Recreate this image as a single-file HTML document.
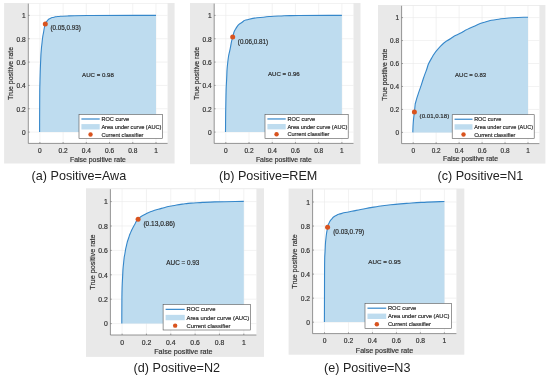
<!DOCTYPE html>
<html lang="en"><head><meta charset="utf-8"><title>ROC curves</title>
<style>
html,body{margin:0;padding:0;background:#fff;}
body{width:550px;height:377px;overflow:hidden;}
svg{display:block;font-family:"Liberation Sans", sans-serif;}
text{stroke:#333;stroke-width:0.18px;}
</style></head><body>
<svg width="550" height="377" viewBox="0 0 550 377">
<rect width="550" height="377" fill="#fff"/>
<g id="panel-a">
<rect x="4.1" y="3" width="170.5" height="160.5" fill="#e9e9e9"/>
<rect x="28.3" y="3.6" width="139.3" height="139.8" fill="#fff"/>
<line x1="39.9" y1="3.6" x2="39.9" y2="143.4" stroke="#e9e9e9" stroke-width="0.6"/>
<line x1="28.3" y1="132.1" x2="167.6" y2="132.1" stroke="#e9e9e9" stroke-width="0.6"/>
<line x1="63.12" y1="3.6" x2="63.12" y2="143.4" stroke="#e9e9e9" stroke-width="0.6"/>
<line x1="28.3" y1="108.76" x2="167.6" y2="108.76" stroke="#e9e9e9" stroke-width="0.6"/>
<line x1="86.34" y1="3.6" x2="86.34" y2="143.4" stroke="#e9e9e9" stroke-width="0.6"/>
<line x1="28.3" y1="85.42" x2="167.6" y2="85.42" stroke="#e9e9e9" stroke-width="0.6"/>
<line x1="109.56" y1="3.6" x2="109.56" y2="143.4" stroke="#e9e9e9" stroke-width="0.6"/>
<line x1="28.3" y1="62.08" x2="167.6" y2="62.08" stroke="#e9e9e9" stroke-width="0.6"/>
<line x1="132.78" y1="3.6" x2="132.78" y2="143.4" stroke="#e9e9e9" stroke-width="0.6"/>
<line x1="28.3" y1="38.74" x2="167.6" y2="38.74" stroke="#e9e9e9" stroke-width="0.6"/>
<line x1="156" y1="3.6" x2="156" y2="143.4" stroke="#e9e9e9" stroke-width="0.6"/>
<line x1="28.3" y1="15.4" x2="167.6" y2="15.4" stroke="#e9e9e9" stroke-width="0.6"/>
<path d="M39.6,132.1 C39.63,121.4 39.6,117.37 39.7,100 C39.83,82.63 39.7,93.33 40,80 C40.33,66.67 40.27,70 40.7,60 C41.13,50 40.9,55.33 41.3,50 C41.7,44.67 41.43,48.33 41.9,44 C42.37,39.67 42.17,40.77 42.7,37 C43.23,33.23 42.93,35.87 43.5,32.7 C44.07,29.53 43.77,30.4 44.4,27.5 C45.03,24.6 44.4,26.33 45.4,24 C46.43,21.67 45.9,22.37 47.5,20.5 C49.1,18.63 48.03,19.5 50.2,18.4 C52.37,17.3 51.47,17.83 54,17.2 C56.53,16.57 54,16.93 57.8,16.5 C62.7,16.07 57.8,16.23 68.7,15.9 C79.6,15.57 68.7,15.67 90.5,15.5 C119.6,15.4 134.17,15.43 156,15.4 L156,132.1 Z" fill="#bedcef"/>
<path d="M39.6,132.1 C39.63,121.4 39.6,117.37 39.7,100 C39.83,82.63 39.7,93.33 40,80 C40.33,66.67 40.27,70 40.7,60 C41.13,50 40.9,55.33 41.3,50 C41.7,44.67 41.43,48.33 41.9,44 C42.37,39.67 42.17,40.77 42.7,37 C43.23,33.23 42.93,35.87 43.5,32.7 C44.07,29.53 43.77,30.4 44.4,27.5 C45.03,24.6 44.4,26.33 45.4,24 C46.43,21.67 45.9,22.37 47.5,20.5 C49.1,18.63 48.03,19.5 50.2,18.4 C52.37,17.3 51.47,17.83 54,17.2 C56.53,16.57 54,16.93 57.8,16.5 C62.7,16.07 57.8,16.23 68.7,15.9 C79.6,15.57 68.7,15.67 90.5,15.5 C119.6,15.4 134.17,15.43 156,15.4" fill="none" stroke="#3587ca" stroke-width="1.1" stroke-linejoin="round"/>
<polyline points="28.3,3.6 28.3,143.4 167.6,143.4" fill="none" stroke="#6a6a6a" stroke-width="0.7"/>
<line x1="39.9" y1="143.4" x2="39.9" y2="142" stroke="#6a6a6a" stroke-width="0.6"/>
<line x1="28.3" y1="132.1" x2="29.7" y2="132.1" stroke="#6a6a6a" stroke-width="0.6"/>
<line x1="63.12" y1="143.4" x2="63.12" y2="142" stroke="#6a6a6a" stroke-width="0.6"/>
<line x1="28.3" y1="108.76" x2="29.7" y2="108.76" stroke="#6a6a6a" stroke-width="0.6"/>
<line x1="86.34" y1="143.4" x2="86.34" y2="142" stroke="#6a6a6a" stroke-width="0.6"/>
<line x1="28.3" y1="85.42" x2="29.7" y2="85.42" stroke="#6a6a6a" stroke-width="0.6"/>
<line x1="109.56" y1="143.4" x2="109.56" y2="142" stroke="#6a6a6a" stroke-width="0.6"/>
<line x1="28.3" y1="62.08" x2="29.7" y2="62.08" stroke="#6a6a6a" stroke-width="0.6"/>
<line x1="132.78" y1="143.4" x2="132.78" y2="142" stroke="#6a6a6a" stroke-width="0.6"/>
<line x1="28.3" y1="38.74" x2="29.7" y2="38.74" stroke="#6a6a6a" stroke-width="0.6"/>
<line x1="156" y1="143.4" x2="156" y2="142" stroke="#6a6a6a" stroke-width="0.6"/>
<line x1="28.3" y1="15.4" x2="29.7" y2="15.4" stroke="#6a6a6a" stroke-width="0.6"/>
<g font-size="6.55" fill="#303030">
<text x="39.9" y="152.66" text-anchor="middle">0</text>
<text x="25.7" y="134.86" text-anchor="end">0</text>
<text x="63.12" y="152.66" text-anchor="middle">0.2</text>
<text x="25.7" y="111.52" text-anchor="end">0.2</text>
<text x="86.34" y="152.66" text-anchor="middle">0.4</text>
<text x="25.7" y="88.18" text-anchor="end">0.4</text>
<text x="109.56" y="152.66" text-anchor="middle">0.6</text>
<text x="25.7" y="64.84" text-anchor="end">0.6</text>
<text x="132.78" y="152.66" text-anchor="middle">0.8</text>
<text x="25.7" y="41.5" text-anchor="end">0.8</text>
<text x="156" y="152.66" text-anchor="middle">1</text>
<text x="25.7" y="18.16" text-anchor="end">1</text>
</g>
<text x="97.95" y="161.67" font-size="6.9" text-anchor="middle" fill="#303030">False positive rate</text>
<text transform="translate(13.47,73.5) rotate(-90)" font-size="6.9" text-anchor="middle" fill="#303030">True positive rate</text>
<circle cx="45.3" cy="24" r="2.5" fill="#d9531e"/>
<text x="50.5" y="30.06" font-size="6.27" fill="#222">(0.05,0.93)</text>
<text x="82.1" y="76.7" font-size="6.1" fill="#222">AUC = 0.98</text>
<rect x="79" y="114.4" width="83.4" height="24.2" fill="#fff" stroke="#555" stroke-width="0.6"/>
<line x1="81.4" y1="119" x2="99.7" y2="119" stroke="#3587ca" stroke-width="1.2"/>
<rect x="81.4" y="124.09" width="18.3" height="5.4" fill="#bedcef"/>
<circle cx="90.55" cy="134.49" r="2.2" fill="#d9531e"/>
<g font-size="5.6" fill="#222">
<text x="101.4" y="121.01">ROC curve</text>
<text x="101.4" y="128.71">Area under curve (AUC)</text>
<text x="101.4" y="136.5">Current classifier</text>
</g>
<text x="31.6" y="180" font-size="12.6" fill="#222" style="stroke:none">(a) Positive=Awa</text>
</g>
<g id="panel-b">
<rect x="190" y="3" width="170.5" height="161.2" fill="#e9e9e9"/>
<rect x="214.2" y="3.6" width="139.3" height="139.8" fill="#fff"/>
<line x1="225.8" y1="3.6" x2="225.8" y2="143.4" stroke="#e9e9e9" stroke-width="0.6"/>
<line x1="214.2" y1="132.1" x2="353.5" y2="132.1" stroke="#e9e9e9" stroke-width="0.6"/>
<line x1="249.02" y1="3.6" x2="249.02" y2="143.4" stroke="#e9e9e9" stroke-width="0.6"/>
<line x1="214.2" y1="108.76" x2="353.5" y2="108.76" stroke="#e9e9e9" stroke-width="0.6"/>
<line x1="272.24" y1="3.6" x2="272.24" y2="143.4" stroke="#e9e9e9" stroke-width="0.6"/>
<line x1="214.2" y1="85.42" x2="353.5" y2="85.42" stroke="#e9e9e9" stroke-width="0.6"/>
<line x1="295.46" y1="3.6" x2="295.46" y2="143.4" stroke="#e9e9e9" stroke-width="0.6"/>
<line x1="214.2" y1="62.08" x2="353.5" y2="62.08" stroke="#e9e9e9" stroke-width="0.6"/>
<line x1="318.68" y1="3.6" x2="318.68" y2="143.4" stroke="#e9e9e9" stroke-width="0.6"/>
<line x1="214.2" y1="38.74" x2="353.5" y2="38.74" stroke="#e9e9e9" stroke-width="0.6"/>
<line x1="341.9" y1="3.6" x2="341.9" y2="143.4" stroke="#e9e9e9" stroke-width="0.6"/>
<line x1="214.2" y1="15.4" x2="353.5" y2="15.4" stroke="#e9e9e9" stroke-width="0.6"/>
<path d="M225.5,132.1 C225.63,121.4 225.53,117.37 225.9,100 C226.27,82.63 225.97,92.67 226.6,80 C227.23,67.33 226.6,72.43 227.8,62 C229,51.57 228.57,57 230.2,48.7 C231.83,40.4 230.77,43.87 232.7,37.1 C234.63,30.33 232.97,33.27 236,28.4 C239.03,23.53 237.43,25.57 241.8,22.5 C246.17,19.43 241.83,20.97 249.1,19.2 C256.37,17.43 253.9,18.27 263.6,17.2 C273.3,16.13 266.57,16.57 278.2,16 C289.83,15.5 278.2,15.7 298.5,15.5 C319.73,15.4 327.43,15.43 341.9,15.4 L341.9,132.1 Z" fill="#bedcef"/>
<path d="M225.5,132.1 C225.63,121.4 225.53,117.37 225.9,100 C226.27,82.63 225.97,92.67 226.6,80 C227.23,67.33 226.6,72.43 227.8,62 C229,51.57 228.57,57 230.2,48.7 C231.83,40.4 230.77,43.87 232.7,37.1 C234.63,30.33 232.97,33.27 236,28.4 C239.03,23.53 237.43,25.57 241.8,22.5 C246.17,19.43 241.83,20.97 249.1,19.2 C256.37,17.43 253.9,18.27 263.6,17.2 C273.3,16.13 266.57,16.57 278.2,16 C289.83,15.5 278.2,15.7 298.5,15.5 C319.73,15.4 327.43,15.43 341.9,15.4" fill="none" stroke="#3587ca" stroke-width="1.1" stroke-linejoin="round"/>
<polyline points="214.2,3.6 214.2,143.4 353.5,143.4" fill="none" stroke="#6a6a6a" stroke-width="0.7"/>
<line x1="225.8" y1="143.4" x2="225.8" y2="142" stroke="#6a6a6a" stroke-width="0.6"/>
<line x1="214.2" y1="132.1" x2="215.6" y2="132.1" stroke="#6a6a6a" stroke-width="0.6"/>
<line x1="249.02" y1="143.4" x2="249.02" y2="142" stroke="#6a6a6a" stroke-width="0.6"/>
<line x1="214.2" y1="108.76" x2="215.6" y2="108.76" stroke="#6a6a6a" stroke-width="0.6"/>
<line x1="272.24" y1="143.4" x2="272.24" y2="142" stroke="#6a6a6a" stroke-width="0.6"/>
<line x1="214.2" y1="85.42" x2="215.6" y2="85.42" stroke="#6a6a6a" stroke-width="0.6"/>
<line x1="295.46" y1="143.4" x2="295.46" y2="142" stroke="#6a6a6a" stroke-width="0.6"/>
<line x1="214.2" y1="62.08" x2="215.6" y2="62.08" stroke="#6a6a6a" stroke-width="0.6"/>
<line x1="318.68" y1="143.4" x2="318.68" y2="142" stroke="#6a6a6a" stroke-width="0.6"/>
<line x1="214.2" y1="38.74" x2="215.6" y2="38.74" stroke="#6a6a6a" stroke-width="0.6"/>
<line x1="341.9" y1="143.4" x2="341.9" y2="142" stroke="#6a6a6a" stroke-width="0.6"/>
<line x1="214.2" y1="15.4" x2="215.6" y2="15.4" stroke="#6a6a6a" stroke-width="0.6"/>
<g font-size="6.55" fill="#303030">
<text x="225.8" y="152.66" text-anchor="middle">0</text>
<text x="211.6" y="134.86" text-anchor="end">0</text>
<text x="249.02" y="152.66" text-anchor="middle">0.2</text>
<text x="211.6" y="111.52" text-anchor="end">0.2</text>
<text x="272.24" y="152.66" text-anchor="middle">0.4</text>
<text x="211.6" y="88.18" text-anchor="end">0.4</text>
<text x="295.46" y="152.66" text-anchor="middle">0.6</text>
<text x="211.6" y="64.84" text-anchor="end">0.6</text>
<text x="318.68" y="152.66" text-anchor="middle">0.8</text>
<text x="211.6" y="41.5" text-anchor="end">0.8</text>
<text x="341.9" y="152.66" text-anchor="middle">1</text>
<text x="211.6" y="18.16" text-anchor="end">1</text>
</g>
<text x="283.85" y="161.67" font-size="6.9" text-anchor="middle" fill="#303030">False positive rate</text>
<text transform="translate(199.37,73.5) rotate(-90)" font-size="6.9" text-anchor="middle" fill="#303030">True positive rate</text>
<circle cx="232.7" cy="37.1" r="2.5" fill="#d9531e"/>
<text x="237.8" y="44.06" font-size="6.27" fill="#222">(0.06,0.81)</text>
<text x="268" y="76.1" font-size="6.1" fill="#222">AUC = 0.96</text>
<rect x="265" y="114.4" width="83.2" height="24" fill="#fff" stroke="#555" stroke-width="0.6"/>
<line x1="267.4" y1="118.96" x2="285.7" y2="118.96" stroke="#3587ca" stroke-width="1.2"/>
<rect x="267.4" y="123.99" width="18.3" height="5.4" fill="#bedcef"/>
<circle cx="276.55" cy="134.32" r="2.2" fill="#d9531e"/>
<g font-size="5.6" fill="#222">
<text x="287.4" y="120.98">ROC curve</text>
<text x="287.4" y="128.61">Area under curve (AUC)</text>
<text x="287.4" y="136.34">Current classifier</text>
</g>
<text x="219" y="180" font-size="12.6" fill="#222" style="stroke:none">(b) Positive=REM</text>
</g>
<g id="panel-c">
<rect x="378" y="5" width="167.4" height="158.6" fill="#e9e9e9"/>
<rect x="401.6" y="5.8" width="137.8" height="137.8" fill="#fff"/>
<line x1="413.2" y1="5.8" x2="413.2" y2="143.6" stroke="#e9e9e9" stroke-width="0.6"/>
<line x1="401.6" y1="132.4" x2="539.4" y2="132.4" stroke="#e9e9e9" stroke-width="0.6"/>
<line x1="436.16" y1="5.8" x2="436.16" y2="143.6" stroke="#e9e9e9" stroke-width="0.6"/>
<line x1="401.6" y1="109.44" x2="539.4" y2="109.44" stroke="#e9e9e9" stroke-width="0.6"/>
<line x1="459.12" y1="5.8" x2="459.12" y2="143.6" stroke="#e9e9e9" stroke-width="0.6"/>
<line x1="401.6" y1="86.48" x2="539.4" y2="86.48" stroke="#e9e9e9" stroke-width="0.6"/>
<line x1="482.08" y1="5.8" x2="482.08" y2="143.6" stroke="#e9e9e9" stroke-width="0.6"/>
<line x1="401.6" y1="63.52" x2="539.4" y2="63.52" stroke="#e9e9e9" stroke-width="0.6"/>
<line x1="505.04" y1="5.8" x2="505.04" y2="143.6" stroke="#e9e9e9" stroke-width="0.6"/>
<line x1="401.6" y1="40.56" x2="539.4" y2="40.56" stroke="#e9e9e9" stroke-width="0.6"/>
<line x1="528" y1="5.8" x2="528" y2="143.6" stroke="#e9e9e9" stroke-width="0.6"/>
<line x1="401.6" y1="17.6" x2="539.4" y2="17.6" stroke="#e9e9e9" stroke-width="0.6"/>
<path d="M412.8,132.4 C412.97,128.93 412.8,128.8 413.3,122 C413.83,115.2 413.77,118 414.4,112 C415.03,106 414.4,112 415.2,104 C417.57,94.77 417.93,95.1 421.5,84.3 C425.07,73.5 422.67,80.07 425.9,71.6 C429.13,63.13 426.3,67.37 431.2,58.9 C436.1,50.43 434.07,53 440.6,46.2 C447.13,39.4 444.43,42.77 450.8,38.5 C457.17,34.23 452.5,37.2 459.7,33.4 C466.9,29.6 463.9,30.9 472.4,27.1 C480.9,23.3 477.13,24.53 485.2,22 C493.27,19.5 487.7,20.93 496.6,19.5 C505.5,18.07 501.43,18.47 511.9,17.7 C522.37,17.2 522.63,17.37 528,17.2 L528,132.4 Z" fill="#bedcef"/>
<path d="M412.8,132.4 C412.97,128.93 412.8,128.8 413.3,122 C413.83,115.2 413.77,118 414.4,112 C415.03,106 414.4,112 415.2,104 C417.57,94.77 417.93,95.1 421.5,84.3 C425.07,73.5 422.67,80.07 425.9,71.6 C429.13,63.13 426.3,67.37 431.2,58.9 C436.1,50.43 434.07,53 440.6,46.2 C447.13,39.4 444.43,42.77 450.8,38.5 C457.17,34.23 452.5,37.2 459.7,33.4 C466.9,29.6 463.9,30.9 472.4,27.1 C480.9,23.3 477.13,24.53 485.2,22 C493.27,19.5 487.7,20.93 496.6,19.5 C505.5,18.07 501.43,18.47 511.9,17.7 C522.37,17.2 522.63,17.37 528,17.2" fill="none" stroke="#3587ca" stroke-width="1.1" stroke-linejoin="round"/>
<polyline points="401.6,5.8 401.6,143.6 539.4,143.6" fill="none" stroke="#6a6a6a" stroke-width="0.7"/>
<line x1="413.2" y1="143.6" x2="413.2" y2="142.2" stroke="#6a6a6a" stroke-width="0.6"/>
<line x1="401.6" y1="132.4" x2="403" y2="132.4" stroke="#6a6a6a" stroke-width="0.6"/>
<line x1="436.16" y1="143.6" x2="436.16" y2="142.2" stroke="#6a6a6a" stroke-width="0.6"/>
<line x1="401.6" y1="109.44" x2="403" y2="109.44" stroke="#6a6a6a" stroke-width="0.6"/>
<line x1="459.12" y1="143.6" x2="459.12" y2="142.2" stroke="#6a6a6a" stroke-width="0.6"/>
<line x1="401.6" y1="86.48" x2="403" y2="86.48" stroke="#6a6a6a" stroke-width="0.6"/>
<line x1="482.08" y1="143.6" x2="482.08" y2="142.2" stroke="#6a6a6a" stroke-width="0.6"/>
<line x1="401.6" y1="63.52" x2="403" y2="63.52" stroke="#6a6a6a" stroke-width="0.6"/>
<line x1="505.04" y1="143.6" x2="505.04" y2="142.2" stroke="#6a6a6a" stroke-width="0.6"/>
<line x1="401.6" y1="40.56" x2="403" y2="40.56" stroke="#6a6a6a" stroke-width="0.6"/>
<line x1="528" y1="143.6" x2="528" y2="142.2" stroke="#6a6a6a" stroke-width="0.6"/>
<line x1="401.6" y1="17.6" x2="403" y2="17.6" stroke="#6a6a6a" stroke-width="0.6"/>
<g font-size="6.42" fill="#303030">
<text x="413.2" y="152.91" text-anchor="middle">0</text>
<text x="399" y="135.11" text-anchor="end">0</text>
<text x="436.16" y="152.91" text-anchor="middle">0.2</text>
<text x="399" y="112.15" text-anchor="end">0.2</text>
<text x="459.12" y="152.91" text-anchor="middle">0.4</text>
<text x="399" y="89.19" text-anchor="end">0.4</text>
<text x="482.08" y="152.91" text-anchor="middle">0.6</text>
<text x="399" y="66.23" text-anchor="end">0.6</text>
<text x="505.04" y="152.91" text-anchor="middle">0.8</text>
<text x="399" y="43.27" text-anchor="end">0.8</text>
<text x="528" y="152.91" text-anchor="middle">1</text>
<text x="399" y="20.31" text-anchor="end">1</text>
</g>
<text x="470.5" y="161.33" font-size="6.76" text-anchor="middle" fill="#303030">False positive rate</text>
<text transform="translate(387.03,74.7) rotate(-90)" font-size="6.76" text-anchor="middle" fill="#303030">True positive rate</text>
<circle cx="414.4" cy="112" r="2.5" fill="#d9531e"/>
<text x="419.6" y="118.11" font-size="6.14" fill="#222">(0.01,0.18)</text>
<text x="455.1" y="77.05" font-size="5.98" fill="#222">AUC = 0.83</text>
<rect x="452.2" y="114.7" width="82" height="23.9" fill="#fff" stroke="#555" stroke-width="0.6"/>
<line x1="454.55" y1="119.24" x2="472.49" y2="119.24" stroke="#3587ca" stroke-width="1.2"/>
<rect x="454.55" y="124.24" width="17.93" height="5.4" fill="#bedcef"/>
<circle cx="463.52" cy="134.54" r="2.2" fill="#d9531e"/>
<g font-size="5.49" fill="#222">
<text x="474.15" y="121.22">ROC curve</text>
<text x="474.15" y="128.82">Area under curve (AUC)</text>
<text x="474.15" y="136.51">Current classifier</text>
</g>
<text x="437.5" y="180" font-size="12.6" fill="#222" style="stroke:none">(c) Positive=N1</text>
</g>
<g id="panel-d">
<rect x="86" y="188.3" width="178" height="168.6" fill="#e9e9e9"/>
<rect x="110.4" y="189.2" width="146" height="145.8" fill="#fff"/>
<line x1="122.1" y1="189.2" x2="122.1" y2="335" stroke="#e9e9e9" stroke-width="0.6"/>
<line x1="110.4" y1="323.6" x2="256.4" y2="323.6" stroke="#e9e9e9" stroke-width="0.6"/>
<line x1="146.44" y1="189.2" x2="146.44" y2="335" stroke="#e9e9e9" stroke-width="0.6"/>
<line x1="110.4" y1="299.2" x2="256.4" y2="299.2" stroke="#e9e9e9" stroke-width="0.6"/>
<line x1="170.78" y1="189.2" x2="170.78" y2="335" stroke="#e9e9e9" stroke-width="0.6"/>
<line x1="110.4" y1="274.8" x2="256.4" y2="274.8" stroke="#e9e9e9" stroke-width="0.6"/>
<line x1="195.12" y1="189.2" x2="195.12" y2="335" stroke="#e9e9e9" stroke-width="0.6"/>
<line x1="110.4" y1="250.4" x2="256.4" y2="250.4" stroke="#e9e9e9" stroke-width="0.6"/>
<line x1="219.46" y1="189.2" x2="219.46" y2="335" stroke="#e9e9e9" stroke-width="0.6"/>
<line x1="110.4" y1="226" x2="256.4" y2="226" stroke="#e9e9e9" stroke-width="0.6"/>
<line x1="243.8" y1="189.2" x2="243.8" y2="335" stroke="#e9e9e9" stroke-width="0.6"/>
<line x1="110.4" y1="201.6" x2="256.4" y2="201.6" stroke="#e9e9e9" stroke-width="0.6"/>
<path d="M121.8,323.6 C121.83,315.07 121.8,313.53 121.9,298 C122.17,282.47 122.03,288.67 122.6,277 C123.17,265.33 122.8,271 123.6,263 C124.4,255 124,259 125,253 C126,247 125.4,250 126.6,245 C127.8,240 127.2,242.3 128.6,238 C130,233.7 128.97,236.23 130.8,232.1 C132.63,227.97 131.63,229.93 134.1,225.6 C136.57,221.27 134.67,222.8 138.2,219.1 C141.73,215.4 140.07,217.1 144.7,214.5 C149.33,211.9 146.53,213.33 152.1,211.3 C157.67,209.27 154.57,210.23 161.4,208.4 C168.23,206.57 164.73,207.33 172.6,205.8 C180.47,204.27 176.87,204.8 185,203.8 C193.13,202.8 187.1,203.43 197,202.8 C206.9,202.17 199.1,202.37 214.7,201.9 C230.3,201.43 234.1,201.57 243.8,201.4 L243.8,323.6 Z" fill="#bedcef"/>
<path d="M121.8,323.6 C121.83,315.07 121.8,313.53 121.9,298 C122.17,282.47 122.03,288.67 122.6,277 C123.17,265.33 122.8,271 123.6,263 C124.4,255 124,259 125,253 C126,247 125.4,250 126.6,245 C127.8,240 127.2,242.3 128.6,238 C130,233.7 128.97,236.23 130.8,232.1 C132.63,227.97 131.63,229.93 134.1,225.6 C136.57,221.27 134.67,222.8 138.2,219.1 C141.73,215.4 140.07,217.1 144.7,214.5 C149.33,211.9 146.53,213.33 152.1,211.3 C157.67,209.27 154.57,210.23 161.4,208.4 C168.23,206.57 164.73,207.33 172.6,205.8 C180.47,204.27 176.87,204.8 185,203.8 C193.13,202.8 187.1,203.43 197,202.8 C206.9,202.17 199.1,202.37 214.7,201.9 C230.3,201.43 234.1,201.57 243.8,201.4" fill="none" stroke="#3587ca" stroke-width="1.1" stroke-linejoin="round"/>
<polyline points="110.4,189.2 110.4,335 256.4,335" fill="none" stroke="#6a6a6a" stroke-width="0.7"/>
<line x1="122.1" y1="335" x2="122.1" y2="333.6" stroke="#6a6a6a" stroke-width="0.6"/>
<line x1="110.4" y1="323.6" x2="111.8" y2="323.6" stroke="#6a6a6a" stroke-width="0.6"/>
<line x1="146.44" y1="335" x2="146.44" y2="333.6" stroke="#6a6a6a" stroke-width="0.6"/>
<line x1="110.4" y1="299.2" x2="111.8" y2="299.2" stroke="#6a6a6a" stroke-width="0.6"/>
<line x1="170.78" y1="335" x2="170.78" y2="333.6" stroke="#6a6a6a" stroke-width="0.6"/>
<line x1="110.4" y1="274.8" x2="111.8" y2="274.8" stroke="#6a6a6a" stroke-width="0.6"/>
<line x1="195.12" y1="335" x2="195.12" y2="333.6" stroke="#6a6a6a" stroke-width="0.6"/>
<line x1="110.4" y1="250.4" x2="111.8" y2="250.4" stroke="#6a6a6a" stroke-width="0.6"/>
<line x1="219.46" y1="335" x2="219.46" y2="333.6" stroke="#6a6a6a" stroke-width="0.6"/>
<line x1="110.4" y1="226" x2="111.8" y2="226" stroke="#6a6a6a" stroke-width="0.6"/>
<line x1="243.8" y1="335" x2="243.8" y2="333.6" stroke="#6a6a6a" stroke-width="0.6"/>
<line x1="110.4" y1="201.6" x2="111.8" y2="201.6" stroke="#6a6a6a" stroke-width="0.6"/>
<g font-size="6.84" fill="#303030">
<text x="122.1" y="345.06" text-anchor="middle">0</text>
<text x="107.8" y="326.46" text-anchor="end">0</text>
<text x="146.44" y="345.06" text-anchor="middle">0.2</text>
<text x="107.8" y="302.06" text-anchor="end">0.2</text>
<text x="170.78" y="345.06" text-anchor="middle">0.4</text>
<text x="107.8" y="277.66" text-anchor="end">0.4</text>
<text x="195.12" y="345.06" text-anchor="middle">0.6</text>
<text x="107.8" y="253.26" text-anchor="end">0.6</text>
<text x="219.46" y="345.06" text-anchor="middle">0.8</text>
<text x="107.8" y="228.86" text-anchor="end">0.8</text>
<text x="243.8" y="345.06" text-anchor="middle">1</text>
<text x="107.8" y="204.46" text-anchor="end">1</text>
</g>
<text x="183.4" y="353.96" font-size="7.2" text-anchor="middle" fill="#303030">False positive rate</text>
<text transform="translate(94.66,262.1) rotate(-90)" font-size="7.2" text-anchor="middle" fill="#303030">True positive rate</text>
<circle cx="138.1" cy="219.2" r="2.5" fill="#d9531e"/>
<text x="143.4" y="226.16" font-size="6.55" fill="#222">(0.13,0.86)</text>
<text x="166.3" y="265.19" font-size="6.37" fill="#222">AUC = 0.93</text>
<rect x="163.1" y="304.5" width="87.5" height="25.5" fill="#fff" stroke="#555" stroke-width="0.6"/>
<line x1="165.61" y1="309.35" x2="184.71" y2="309.35" stroke="#3587ca" stroke-width="1.2"/>
<rect x="165.61" y="314.85" width="19.11" height="5.4" fill="#bedcef"/>
<circle cx="175.16" cy="325.67" r="2.2" fill="#d9531e"/>
<g font-size="5.85" fill="#222">
<text x="186.49" y="311.45">ROC curve</text>
<text x="186.49" y="319.56">Area under curve (AUC)</text>
<text x="186.49" y="327.77">Current classifier</text>
</g>
<text x="133.6" y="371.8" font-size="12.6" fill="#222" style="stroke:none">(d) Positive=N2</text>
</g>
<g id="panel-e">
<rect x="288.6" y="188.5" width="175.7" height="166.2" fill="#e9e9e9"/>
<rect x="312.6" y="189.4" width="143.8" height="144.2" fill="#fff"/>
<line x1="324.5" y1="189.4" x2="324.5" y2="333.6" stroke="#e9e9e9" stroke-width="0.6"/>
<line x1="312.6" y1="322.2" x2="456.4" y2="322.2" stroke="#e9e9e9" stroke-width="0.6"/>
<line x1="348.48" y1="189.4" x2="348.48" y2="333.6" stroke="#e9e9e9" stroke-width="0.6"/>
<line x1="312.6" y1="298.16" x2="456.4" y2="298.16" stroke="#e9e9e9" stroke-width="0.6"/>
<line x1="372.46" y1="189.4" x2="372.46" y2="333.6" stroke="#e9e9e9" stroke-width="0.6"/>
<line x1="312.6" y1="274.12" x2="456.4" y2="274.12" stroke="#e9e9e9" stroke-width="0.6"/>
<line x1="396.44" y1="189.4" x2="396.44" y2="333.6" stroke="#e9e9e9" stroke-width="0.6"/>
<line x1="312.6" y1="250.08" x2="456.4" y2="250.08" stroke="#e9e9e9" stroke-width="0.6"/>
<line x1="420.42" y1="189.4" x2="420.42" y2="333.6" stroke="#e9e9e9" stroke-width="0.6"/>
<line x1="312.6" y1="226.04" x2="456.4" y2="226.04" stroke="#e9e9e9" stroke-width="0.6"/>
<line x1="444.4" y1="189.4" x2="444.4" y2="333.6" stroke="#e9e9e9" stroke-width="0.6"/>
<line x1="312.6" y1="202" x2="456.4" y2="202" stroke="#e9e9e9" stroke-width="0.6"/>
<path d="M324.4,322 C324.43,311.67 324.43,310 324.5,291 C324.57,272 324.5,278.43 324.6,265 C324.8,251.57 324.63,259.8 325.1,250.7 C325.57,241.6 325.13,245.43 326,237.7 C326.87,229.97 326.67,232.43 327.7,227.5 C328.73,222.9 327.7,225.8 329.1,222.9 C330.5,220 329.73,221.17 331.9,218.8 C334.07,216.43 332.5,217.53 335.6,215.8 C338.7,214.07 336.53,214.97 341.2,213.6 C345.87,212.23 343.1,213.07 349.6,211.7 C356.1,210.33 352.67,211.03 360.7,209.5 C368.73,207.97 364.93,208.53 373.7,207.1 C382.47,205.67 376.07,206.43 387,205.2 C397.93,203.97 393.2,204.43 406.5,203.4 C419.8,202.37 414.27,202.73 426.9,202.1 C439.53,201.5 438.57,201.7 444.4,201.5 L444.4,322 Z" fill="#bedcef"/>
<path d="M324.4,322 C324.43,311.67 324.43,310 324.5,291 C324.57,272 324.5,278.43 324.6,265 C324.8,251.57 324.63,259.8 325.1,250.7 C325.57,241.6 325.13,245.43 326,237.7 C326.87,229.97 326.67,232.43 327.7,227.5 C328.73,222.9 327.7,225.8 329.1,222.9 C330.5,220 329.73,221.17 331.9,218.8 C334.07,216.43 332.5,217.53 335.6,215.8 C338.7,214.07 336.53,214.97 341.2,213.6 C345.87,212.23 343.1,213.07 349.6,211.7 C356.1,210.33 352.67,211.03 360.7,209.5 C368.73,207.97 364.93,208.53 373.7,207.1 C382.47,205.67 376.07,206.43 387,205.2 C397.93,203.97 393.2,204.43 406.5,203.4 C419.8,202.37 414.27,202.73 426.9,202.1 C439.53,201.5 438.57,201.7 444.4,201.5" fill="none" stroke="#3587ca" stroke-width="1.1" stroke-linejoin="round"/>
<polyline points="312.6,189.4 312.6,333.6 456.4,333.6" fill="none" stroke="#6a6a6a" stroke-width="0.7"/>
<line x1="324.5" y1="333.6" x2="324.5" y2="332.2" stroke="#6a6a6a" stroke-width="0.6"/>
<line x1="312.6" y1="322.2" x2="314" y2="322.2" stroke="#6a6a6a" stroke-width="0.6"/>
<line x1="348.48" y1="333.6" x2="348.48" y2="332.2" stroke="#6a6a6a" stroke-width="0.6"/>
<line x1="312.6" y1="298.16" x2="314" y2="298.16" stroke="#6a6a6a" stroke-width="0.6"/>
<line x1="372.46" y1="333.6" x2="372.46" y2="332.2" stroke="#6a6a6a" stroke-width="0.6"/>
<line x1="312.6" y1="274.12" x2="314" y2="274.12" stroke="#6a6a6a" stroke-width="0.6"/>
<line x1="396.44" y1="333.6" x2="396.44" y2="332.2" stroke="#6a6a6a" stroke-width="0.6"/>
<line x1="312.6" y1="250.08" x2="314" y2="250.08" stroke="#6a6a6a" stroke-width="0.6"/>
<line x1="420.42" y1="333.6" x2="420.42" y2="332.2" stroke="#6a6a6a" stroke-width="0.6"/>
<line x1="312.6" y1="226.04" x2="314" y2="226.04" stroke="#6a6a6a" stroke-width="0.6"/>
<line x1="444.4" y1="333.6" x2="444.4" y2="332.2" stroke="#6a6a6a" stroke-width="0.6"/>
<line x1="312.6" y1="202" x2="314" y2="202" stroke="#6a6a6a" stroke-width="0.6"/>
<g font-size="6.71" fill="#303030">
<text x="324.5" y="342.82" text-anchor="middle">0</text>
<text x="310" y="325.02" text-anchor="end">0</text>
<text x="348.48" y="342.82" text-anchor="middle">0.2</text>
<text x="310" y="300.98" text-anchor="end">0.2</text>
<text x="372.46" y="342.82" text-anchor="middle">0.4</text>
<text x="310" y="276.94" text-anchor="end">0.4</text>
<text x="396.44" y="342.82" text-anchor="middle">0.6</text>
<text x="310" y="252.9" text-anchor="end">0.6</text>
<text x="420.42" y="342.82" text-anchor="middle">0.8</text>
<text x="310" y="228.86" text-anchor="end">0.8</text>
<text x="444.4" y="342.82" text-anchor="middle">1</text>
<text x="310" y="204.82" text-anchor="end">1</text>
</g>
<text x="384.5" y="352.52" font-size="7.07" text-anchor="middle" fill="#303030">False positive rate</text>
<text transform="translate(297.12,261.5) rotate(-90)" font-size="7.07" text-anchor="middle" fill="#303030">True positive rate</text>
<circle cx="327.6" cy="227.3" r="2.5" fill="#d9531e"/>
<text x="333.2" y="234.21" font-size="6.43" fill="#222">(0.03,0.79)</text>
<text x="368.3" y="264.05" font-size="6.25" fill="#222">AUC = 0.95</text>
<rect x="365" y="303.4" width="86.6" height="25.2" fill="#fff" stroke="#555" stroke-width="0.6"/>
<line x1="367.46" y1="308.19" x2="386.22" y2="308.19" stroke="#3587ca" stroke-width="1.2"/>
<rect x="367.46" y="313.6" width="18.76" height="5.4" fill="#bedcef"/>
<circle cx="376.84" cy="324.32" r="2.2" fill="#d9531e"/>
<g font-size="5.74" fill="#222">
<text x="387.96" y="310.25">ROC curve</text>
<text x="387.96" y="318.27">Area under curve (AUC)</text>
<text x="387.96" y="326.38">Current classifier</text>
</g>
<text x="324" y="371.8" font-size="12.6" fill="#222" style="stroke:none">(e) Positive=N3</text>
</g>
</svg>
</body></html>
